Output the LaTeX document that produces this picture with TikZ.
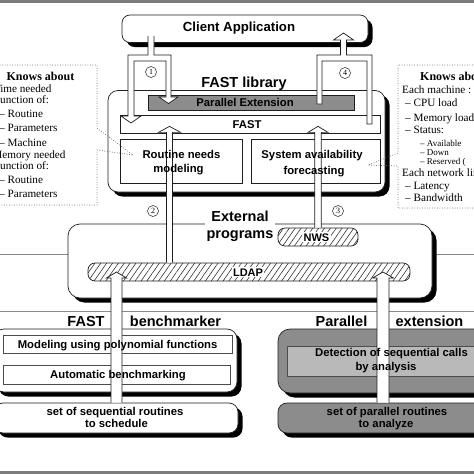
\documentclass[tikz,border=0pt]{standalone}
\usepackage{fontspec}
\setmainfont{Liberation Serif}
\setsansfont{Liberation Sans}
\usetikzlibrary{calc,shadows,patterns.meta}
\definecolor{gframe}{HTML}{7C7C7C}
\definecolor{gmid}{HTML}{8C8C8C}
\definecolor{glight}{HTML}{B9B9B9}
\definecolor{gsep}{HTML}{8A8A8A}
\definecolor{gdot}{HTML}{6E6E6E}
\newcommand\fsz[1]{\fontsize{#1}{#1}\selectfont}
% hollow upward arrow: #1 start coord, #2 tip coord, #3 half shaft, #4 half head, #5 head length
\newcommand\hollowUp[5]{%
  \filldraw[arrowline] ($(#1)+(-#3,0)$) -- ($(#2)+(-#3,#5)$) -- ($(#2)+(-#4,#5)$) -- (#2)
     -- ($(#2)+(#4,#5)$) -- ($(#2)+(#3,#5)$) -- ($(#1)+(#3,0)$);}
\tikzset{
  outl/.style={draw=black!88, line width=0.7pt},
  shadowed/.style={drop shadow={shadow xshift=4.5pt, shadow yshift=-4.5pt, fill=black, opacity=1}},
  rbox/.style={outl, fill=white, rounded corners=#1, inner sep=0pt},
  sbox/.style={outl, fill=white, inner sep=0pt},
  boxsize/.style 2 args={minimum width=#1pt, minimum height=#2pt},
  sanslbl/.style={font=\sffamily\bfseries\fsz{11.3}, inner sep=0pt, anchor=base},
  biglbl/.style={font=\sffamily\bfseries\fsz{14.5}, inner sep=0pt, anchor=base},
  serifln/.style={font=\fsz{11.2}, inner sep=0pt, anchor=base west},
  smallln/.style={font=\fsz{9}, inner sep=0pt, anchor=base west},
  knows/.style={font=\bfseries\fsz{12}, inner sep=0pt, anchor=base},
  dots/.style={draw=gdot, line width=1pt, line cap=round, dash pattern=on 0.01pt off 2.5pt},
  sepline/.style={draw=gsep, line width=0.8pt},
  hatch/.style={outl, rounded corners=7pt, inner sep=0pt, pattern={Lines[angle=55,distance=4.8pt,line width=0.6pt]}, pattern color=black!80},
  arrowline/.style={outl, fill=white, line join=miter},
  num/.style={circle, draw=black!88, line width=0.5pt, minimum size=11pt, inner sep=0pt, font=\fsz{8}},
}
\begin{document}
\begin{tikzpicture}[x=1pt,y=-1pt]
\useasboundingbox (0,0) rectangle (474,474);
\clip (0,0) rectangle (474,474);
\fill[white] (0,0) rectangle (474,474);
\fill[gframe] (0,0) rectangle (474,3);
\fill[gframe] (0,470.5) rectangle (474,474);
\draw[sepline] (0,254) -- (474,254);
\draw[sepline] (0,311) -- (474,311);

% Client application
\node[rbox=8pt, shadowed, boxsize={246}{27.5}] (client) at (245,28.75) {};
% FAST library
\node[rbox=10pt, shadowed, boxsize={277}{101.5}] (fastlib) at (246.5,141.25) {};
\node[sbox, fill=gmid, boxsize={206}{15}] (parext) at (251,102.5) {};
\node[sbox, boxsize={260}{18}] (fastbox) at (250,124) {};
\node[sbox, boxsize={122}{44}] (routine) at (181,161) {};
\node[sbox, boxsize={129}{44}] (system) at (315.5,161) {};
% External programs
\node[rbox=12pt, shadowed, boxsize={364}{74}] (ext) at (250,261) {};
\node[hatch, boxsize={80}{18}] (nws) at (318,237) {};
\node[hatch, boxsize={322}{18}] (ldap) at (249,272) {};
\node[fill=white, inner sep=1.5pt, align=center, font=\sffamily\bfseries\fontsize{14.5}{17}\selectfont] (extlbl) at (240,225.8) {External\\programs};
% FAST benchmarker
\node[rbox=10pt, shadowed, boxsize={243}{63}] (bench) at (115.5,360.5) {};
\node[sbox, draw=black!70, boxsize={229}{18}] (model) at (117.5,344) {};
\node[sbox, draw=black!70, boxsize={227}{19}] (auto) at (116.5,374.5) {};
\node[rbox=9pt, shadowed, boxsize={244}{30}] (seqset) at (116,418) {};
% Parallel extension
\node[rbox=12pt, shadowed, fill=gmid, boxsize={222}{64}] (pbox) at (389,361) {};
\node[sbox, fill=glight, draw=black!70, boxsize={213}{30}] (detect) at (393.5,361) {};
\node[rbox=9pt, shadowed, fill=gmid, boxsize={222}{30}] (parset) at (389,418) {};

% fork arrow 1 (client -> parallel extension / FAST)
\filldraw[arrowline] (148,36) -- (148,55) -- (128,55) -- (128,116) -- (121,116) -- (131,123) -- (141,116) -- (134,116) -- (134,61) -- (166,61) -- (166,97) -- (159,97) -- (168.5,103.5) -- (178,97) -- (171,97) -- (171,55) -- (154,55) -- (154,36);
% fork arrow 4 (parallel extension / FAST -> client)
\filldraw[arrowline] (343.5,33) -- (353.5,40) -- (346.5,40) -- (346.5,55) -- (372,55) -- (372,124) -- (367,124) -- (367,61) -- (322,61) -- (322,104) -- (317,104) -- (317,55) -- (340.5,55) -- (340.5,40) -- (333.5,40) -- cycle;

% arrow 2: LDAP -> FAST
\coordinate (a2s) at ($(ldap.north)+(-79.5,0)$);
\coordinate (a2t) at ($(a2s |- fastbox.south)+(0,-7)$);
\hollowUp{a2s}{a2t}{3}{11}{6}
% arrow 3: NWS -> FAST
\coordinate (a3s) at (nws.north);
\coordinate (a3t) at ($(nws.north |- fastbox.south)+(0,-7)$);
\hollowUp{a3s}{a3t}{3.2}{10}{6}
% sequential routines -> LDAP
\coordinate (a5s) at ($(seqset.north)+(0.5,0)$);
\coordinate (a5t) at (a5s |- ldap.center);
\hollowUp{a5s}{a5t}{5.5}{10}{6}
% parallel routines -> LDAP
\coordinate (a6s) at ($(parset.north)+(-6,0)$);
\coordinate (a6t) at (a6s |- ldap.center);
\hollowUp{a6s}{a6t}{6}{10.5}{6}

% texts
\node[font=\sffamily\bfseries\fsz{13.2}, inner sep=0pt, anchor=base] (tclient) at (239,31.7) {Client Application};
\node[biglbl] (tfastlib) at (244,87.5) {FAST library};
\node[sanslbl] (tparext) at (245,106.5) {Parallel Extension};
\node[sanslbl] (tfast) at (247,128) {FAST};
\node[sanslbl] (trout1) at (181.5,158.3) {Routine needs};
\node[sanslbl] (trout2) at (178.5,172.3) {modeling};
\node[sanslbl] (tsys1) at (312,158.5) {System availability};
\node[sanslbl] (tsys2) at (314,174.5) {forecasting};
\node[sanslbl, fill=white, inner sep=1.2pt, font=\sffamily\bfseries\fsz{11}] (tnws) at (316.5,241) {NWS};
\node[sanslbl, fill=white, inner sep=1.2pt, font=\sffamily\bfseries\fsz{11}] (tldap) at (248,276) {LDAP};
\node[biglbl] (tfb1) at (86,326) {FAST};
\node[biglbl] (tfb2) at (175.5,326) {benchmarker};
\node[biglbl] (tpe1) at (341.5,326) {Parallel};
\node[biglbl] (tpe2) at (429.5,326) {extension};
\node[sanslbl] (tmodel) at (117.6,348) {Modeling using polynomial functions};
\node[sanslbl] (tauto) at (118,378.7) {Automatic benchmarking};
\node[sanslbl] (tseq1) at (115,415.5) {set of sequential routines};
\node[sanslbl] (tseq2) at (116.5,427) {to schedule};
\node[sanslbl] (tdet1) at (391.5,356) {Detection of sequential calls};
\node[sanslbl] (tdet2) at (386,370) {by analysis};
\node[sanslbl] (tpar1) at (387,415.5) {set of parallel routines};
\node[sanslbl] (tpar2) at (386,427) {to analyze};

% circled step numbers
\node[num] (n1) at (151,72) {1};
\node[num] (n4) at (345,73) {4};
\node[num] (n2) at (153,211) {2};
\node[num] (n3) at (338,211) {3};

% left callout
\draw[dots] (-5,65) -- (97,65) -- (97,128) -- (133,155) -- (97,150) -- (97,205) -- (-5,205);
\node[knows] (lk) at (40.5,80) {Knows about};
\node[serifln] (l1) at (-6.4,92.8) {Time needed};
\node[serifln] (l2) at (-3.7,103.5) {function of:};
\node[serifln] (l3) at (-1,117.8) {– Routine};
\node[serifln] (l4) at (-1,131.8) {– Parameters};
\node[serifln] (l5) at (-1,146.2) {– Machine};
\node[serifln] (l6) at (-7.8,158.5) {Memory needed};
\node[serifln] (l7) at (-3.7,169.2) {function of:};
\node[serifln] (l8) at (-1,183.5) {– Routine};
\node[serifln] (l9) at (-1,197.5) {– Parameters};

% right callout
\draw[dots] (480,65) -- (398,65) -- (398,153) -- (368,165) -- (398,166) -- (398,208) -- (480,208);
\node[knows, anchor=base west] (rk) at (420,80.5) {Knows about};
\node[serifln] (r1) at (402,93.5) {Each machine :};
\node[serifln] (r2) at (405,106.5) {– CPU load};
\node[serifln] (r3) at (405,121.5) {– Memory load};
\node[serifln] (r4) at (405,133.5) {– Status:};
\node[smallln] (r5) at (420,146) {– Available};
\node[smallln] (r6) at (420,155) {– Down};
\node[smallln] (r7) at (420,164) {– Reserved (};
\node[serifln] (r8) at (402,176.5) {Each network link :};
\node[serifln] (r9) at (405,189.5) {– Latency};
\node[serifln] (r10) at (405,201.5) {– Bandwidth};
\end{tikzpicture}
\end{document}
